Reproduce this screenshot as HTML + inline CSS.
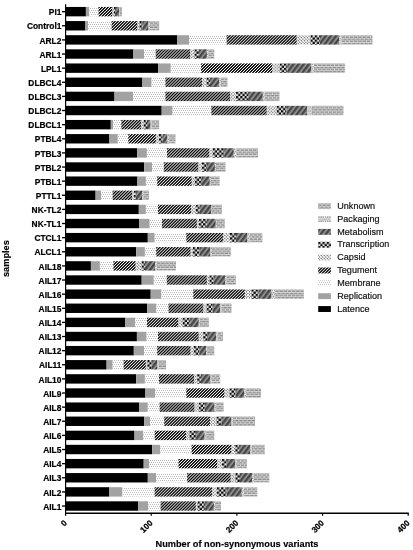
<!DOCTYPE html>
<html><head><meta charset="utf-8"><title>Number of non-synonymous variants</title>
<style>
html,body{margin:0;padding:0;background:#fff;}
body{width:413px;height:550px;overflow:hidden;}
svg{display:block;}
text{font-family:"Liberation Sans",Arial,sans-serif;}
.yl{font-size:8.4px;font-weight:bold;fill:#000;stroke:#000;stroke-width:0.2px;}
.xl{font-size:8.2px;font-weight:bold;fill:#000;stroke:#000;stroke-width:0.25px;}
.lg{font-size:9.05px;fill:#141414;stroke:#141414;stroke-width:0.2px;}
.tt{font-size:9.2px;font-weight:bold;fill:#000;stroke:#000;stroke-width:0.15px;}
</style></head><body>
<svg width="413" height="550" viewBox="0 0 413 550">
<defs>
<pattern id="mem" patternUnits="userSpaceOnUse" width="2" height="4">
<rect width="2" height="4" fill="#fff"/><rect x="0" y="0" width="1" height="1" fill="#bcbcbc"/><rect x="1" y="2" width="1" height="1" fill="#bcbcbc"/></pattern>
<pattern id="teg" patternUnits="userSpaceOnUse" width="2.12" height="6" patternTransform="rotate(45)">
<rect width="2.12" height="6" fill="#fff"/><rect width="1.3" height="6" fill="#000"/></pattern>
<pattern id="cap" patternUnits="userSpaceOnUse" width="2.15" height="2.15" patternTransform="rotate(45)">
<rect width="2.15" height="2.15" fill="#fafafa"/><rect width="1.2" height="1.2" fill="#686868"/></pattern>
<pattern id="tra" patternUnits="userSpaceOnUse" width="4.3" height="4.4">
<rect width="4.3" height="4.4" fill="#e4e4e4"/><rect width="2.15" height="2.2" fill="#000"/><rect x="2.15" y="2.2" width="2.15" height="2.2" fill="#000"/></pattern>
<pattern id="met" patternUnits="userSpaceOnUse" width="4.1" height="6" patternTransform="rotate(37)">
<rect width="4.1" height="6" fill="#8e8e8e"/><rect width="2.2" height="6" fill="#464646"/></pattern>
<pattern id="pac" patternUnits="userSpaceOnUse" width="2.2" height="4.2">
<rect width="2.2" height="4.2" fill="#fafafa"/><rect x="0" y="0.3" width="1.5" height="1.4" fill="#969696"/><rect x="1.1" y="2.4" width="1.1" height="1.4" fill="#969696"/><rect x="0" y="2.4" width="0.4" height="1.4" fill="#969696"/></pattern>
<pattern id="unk" patternUnits="userSpaceOnUse" width="4.2" height="4.3">
<rect width="4.2" height="4.3" fill="#d9d9d9"/><rect x="0" y="1.35" width="3.4" height="1.1" fill="#808080"/><rect x="2.1" y="3.5" width="2.1" height="0.8" fill="#808080"/><rect x="0" y="3.5" width="1.3" height="0.8" fill="#808080"/><rect x="2.1" y="0" width="2.1" height="0.3" fill="#808080"/><rect x="0" y="0" width="1.3" height="0.3" fill="#808080"/></pattern>
</defs>
<g shape-rendering="auto">
<rect x="65.6" y="6.95" width="20.3" height="9.4" fill="#000"/>
<rect x="85.9" y="6.95" width="3.4" height="9.4" fill="#a2a2a2"/>
<rect x="89.3" y="6.95" width="9.2" height="9.4" fill="url(#mem)"/>
<rect width="13.9" height="9.4" fill="url(#teg)" transform="translate(98.5 6.95)"/>
<rect width="1.4" height="9.4" fill="url(#cap)" transform="translate(112.4 6.95)"/>
<rect width="1.2" height="9.4" fill="url(#tra)" transform="translate(113.8 6.95)"/>
<rect width="4.2" height="9.4" fill="url(#met)" transform="translate(115 6.95)"/>
<rect width="0.6" height="9.4" fill="url(#pac)" transform="translate(119.2 6.95)"/>
<rect width="2.2" height="9.4" fill="url(#unk)" transform="translate(119.8 6.95)"/>
<rect x="65.6" y="21.07" width="19.8" height="9.4" fill="#000"/>
<rect x="85.4" y="21.07" width="2.6" height="9.4" fill="#a2a2a2"/>
<rect x="88" y="21.07" width="23.6" height="9.4" fill="url(#mem)"/>
<rect width="25.8" height="9.4" fill="url(#teg)" transform="translate(111.6 21.07)"/>
<rect width="2" height="9.4" fill="url(#cap)" transform="translate(137.4 21.07)"/>
<rect width="2.9" height="9.4" fill="url(#tra)" transform="translate(139.4 21.07)"/>
<rect width="6.2" height="9.4" fill="url(#met)" transform="translate(142.3 21.07)"/>
<rect width="1.5" height="9.4" fill="url(#pac)" transform="translate(148.5 21.07)"/>
<rect width="9.2" height="9.4" fill="url(#unk)" transform="translate(150 21.07)"/>
<rect x="65.6" y="35.2" width="111.7" height="9.4" fill="#000"/>
<rect x="177.3" y="35.2" width="11.8" height="9.4" fill="#a2a2a2"/>
<rect x="189.1" y="35.2" width="37.5" height="9.4" fill="url(#mem)"/>
<rect width="70.2" height="9.4" fill="url(#teg)" transform="translate(226.6 35.2)"/>
<rect width="13.7" height="9.4" fill="url(#cap)" transform="translate(296.8 35.2)"/>
<rect width="9.3" height="9.4" fill="url(#tra)" transform="translate(310.5 35.2)"/>
<rect width="19.2" height="9.4" fill="url(#met)" transform="translate(319.8 35.2)"/>
<rect width="2.5" height="9.4" fill="url(#pac)" transform="translate(339 35.2)"/>
<rect width="31" height="9.4" fill="url(#unk)" transform="translate(341.5 35.2)"/>
<rect x="65.6" y="49.32" width="67.8" height="9.4" fill="#000"/>
<rect x="133.4" y="49.32" width="10.9" height="9.4" fill="#a2a2a2"/>
<rect x="144.3" y="49.32" width="11.4" height="9.4" fill="url(#mem)"/>
<rect width="34.5" height="9.4" fill="url(#teg)" transform="translate(155.7 49.32)"/>
<rect width="4.3" height="9.4" fill="url(#cap)" transform="translate(190.2 49.32)"/>
<rect width="4.4" height="9.4" fill="url(#tra)" transform="translate(194.5 49.32)"/>
<rect width="8" height="9.4" fill="url(#met)" transform="translate(198.9 49.32)"/>
<rect width="1.4" height="9.4" fill="url(#pac)" transform="translate(206.9 49.32)"/>
<rect width="5.9" height="9.4" fill="url(#unk)" transform="translate(208.3 49.32)"/>
<rect x="65.6" y="63.45" width="92.5" height="9.4" fill="#000"/>
<rect x="158.1" y="63.45" width="12.7" height="9.4" fill="#a2a2a2"/>
<rect x="170.8" y="63.45" width="30.3" height="9.4" fill="url(#mem)"/>
<rect width="71.4" height="9.4" fill="url(#teg)" transform="translate(201.1 63.45)"/>
<rect width="7.2" height="9.4" fill="url(#cap)" transform="translate(272.5 63.45)"/>
<rect width="7.8" height="9.4" fill="url(#tra)" transform="translate(279.7 63.45)"/>
<rect width="24" height="9.4" fill="url(#met)" transform="translate(287.5 63.45)"/>
<rect width="2.4" height="9.4" fill="url(#pac)" transform="translate(311.5 63.45)"/>
<rect width="31" height="9.4" fill="url(#unk)" transform="translate(313.9 63.45)"/>
<rect x="65.6" y="77.58" width="76.8" height="9.4" fill="#000"/>
<rect x="142.4" y="77.58" width="9.2" height="9.4" fill="#a2a2a2"/>
<rect x="151.6" y="77.58" width="13.8" height="9.4" fill="url(#mem)"/>
<rect width="36.7" height="9.4" fill="url(#teg)" transform="translate(165.4 77.58)"/>
<rect width="4.4" height="9.4" fill="url(#cap)" transform="translate(202.1 77.58)"/>
<rect width="3.4" height="9.4" fill="url(#tra)" transform="translate(206.5 77.58)"/>
<rect width="9.1" height="9.4" fill="url(#met)" transform="translate(209.9 77.58)"/>
<rect width="2" height="9.4" fill="url(#pac)" transform="translate(219 77.58)"/>
<rect width="6.5" height="9.4" fill="url(#unk)" transform="translate(221 77.58)"/>
<rect x="65.6" y="91.7" width="48.9" height="9.4" fill="#000"/>
<rect x="114.5" y="91.7" width="18.7" height="9.4" fill="#a2a2a2"/>
<rect x="133.2" y="91.7" width="32.2" height="9.4" fill="url(#mem)"/>
<rect width="64.6" height="9.4" fill="url(#teg)" transform="translate(165.4 91.7)"/>
<rect width="6" height="9.4" fill="url(#cap)" transform="translate(230 91.7)"/>
<rect width="12.1" height="9.4" fill="url(#tra)" transform="translate(236 91.7)"/>
<rect width="14.7" height="9.4" fill="url(#met)" transform="translate(248.1 91.7)"/>
<rect width="1.7" height="9.4" fill="url(#pac)" transform="translate(262.8 91.7)"/>
<rect width="15" height="9.4" fill="url(#unk)" transform="translate(264.5 91.7)"/>
<rect x="65.6" y="105.83" width="96.1" height="9.4" fill="#000"/>
<rect x="161.7" y="105.83" width="10.9" height="9.4" fill="#a2a2a2"/>
<rect x="172.6" y="105.83" width="38.7" height="9.4" fill="url(#mem)"/>
<rect width="55.5" height="9.4" fill="url(#teg)" transform="translate(211.3 105.83)"/>
<rect width="9.9" height="9.4" fill="url(#cap)" transform="translate(266.8 105.83)"/>
<rect width="9.8" height="9.4" fill="url(#tra)" transform="translate(276.7 105.83)"/>
<rect width="20.7" height="9.4" fill="url(#met)" transform="translate(286.5 105.83)"/>
<rect width="4.8" height="9.4" fill="url(#pac)" transform="translate(307.2 105.83)"/>
<rect width="31.5" height="9.4" fill="url(#unk)" transform="translate(312 105.83)"/>
<rect x="65.6" y="119.95" width="45.2" height="9.4" fill="#000"/>
<rect x="110.8" y="119.95" width="2.4" height="9.4" fill="#a2a2a2"/>
<rect x="113.2" y="119.95" width="8.1" height="9.4" fill="url(#mem)"/>
<rect width="19.9" height="9.4" fill="url(#teg)" transform="translate(121.3 119.95)"/>
<rect width="2.4" height="9.4" fill="url(#cap)" transform="translate(141.2 119.95)"/>
<rect width="3.4" height="9.4" fill="url(#tra)" transform="translate(143.6 119.95)"/>
<rect width="3.6" height="9.4" fill="url(#met)" transform="translate(147 119.95)"/>
<rect width="0.9" height="9.4" fill="url(#pac)" transform="translate(150.6 119.95)"/>
<rect width="7.7" height="9.4" fill="url(#unk)" transform="translate(151.5 119.95)"/>
<rect x="65.6" y="134.08" width="43.8" height="9.4" fill="#000"/>
<rect x="109.4" y="134.08" width="8.4" height="9.4" fill="#a2a2a2"/>
<rect x="117.8" y="134.08" width="10.5" height="9.4" fill="url(#mem)"/>
<rect width="27.6" height="9.4" fill="url(#teg)" transform="translate(128.3 134.08)"/>
<rect width="3.1" height="9.4" fill="url(#cap)" transform="translate(155.9 134.08)"/>
<rect width="3.6" height="9.4" fill="url(#tra)" transform="translate(159 134.08)"/>
<rect width="4.9" height="9.4" fill="url(#met)" transform="translate(162.6 134.08)"/>
<rect width="1.7" height="9.4" fill="url(#pac)" transform="translate(167.5 134.08)"/>
<rect width="6.3" height="9.4" fill="url(#unk)" transform="translate(169.2 134.08)"/>
<rect x="65.6" y="148.2" width="71.6" height="9.4" fill="#000"/>
<rect x="137.2" y="148.2" width="9.7" height="9.4" fill="#a2a2a2"/>
<rect x="146.9" y="148.2" width="20.1" height="9.4" fill="url(#mem)"/>
<rect width="42.4" height="9.4" fill="url(#teg)" transform="translate(167 148.2)"/>
<rect width="3.4" height="9.4" fill="url(#cap)" transform="translate(209.4 148.2)"/>
<rect width="11.4" height="9.4" fill="url(#tra)" transform="translate(212.8 148.2)"/>
<rect width="9.6" height="9.4" fill="url(#met)" transform="translate(224.2 148.2)"/>
<rect width="2.5" height="9.4" fill="url(#pac)" transform="translate(233.8 148.2)"/>
<rect width="21.7" height="9.4" fill="url(#unk)" transform="translate(236.3 148.2)"/>
<rect x="65.6" y="162.33" width="78.6" height="9.4" fill="#000"/>
<rect x="144.2" y="162.33" width="8" height="9.4" fill="#a2a2a2"/>
<rect x="152.2" y="162.33" width="11.6" height="9.4" fill="url(#mem)"/>
<rect width="34.6" height="9.4" fill="url(#teg)" transform="translate(163.8 162.33)"/>
<rect width="3.6" height="9.4" fill="url(#cap)" transform="translate(198.4 162.33)"/>
<rect width="4.9" height="9.4" fill="url(#tra)" transform="translate(202 162.33)"/>
<rect width="8" height="9.4" fill="url(#met)" transform="translate(206.9 162.33)"/>
<rect width="1.1" height="9.4" fill="url(#pac)" transform="translate(214.9 162.33)"/>
<rect width="9.5" height="9.4" fill="url(#unk)" transform="translate(216 162.33)"/>
<rect x="65.6" y="176.45" width="71.8" height="9.4" fill="#000"/>
<rect x="137.4" y="176.45" width="8.5" height="9.4" fill="#a2a2a2"/>
<rect x="145.9" y="176.45" width="11.3" height="9.4" fill="url(#mem)"/>
<rect width="34.6" height="9.4" fill="url(#teg)" transform="translate(157.2 176.45)"/>
<rect width="3" height="9.4" fill="url(#cap)" transform="translate(191.8 176.45)"/>
<rect width="7.2" height="9.4" fill="url(#tra)" transform="translate(194.8 176.45)"/>
<rect width="7.8" height="9.4" fill="url(#met)" transform="translate(202 176.45)"/>
<rect width="1.2" height="9.4" fill="url(#pac)" transform="translate(209.8 176.45)"/>
<rect width="8.6" height="9.4" fill="url(#unk)" transform="translate(211 176.45)"/>
<rect x="65.6" y="190.58" width="30" height="9.4" fill="#000"/>
<rect x="95.6" y="190.58" width="5.4" height="9.4" fill="#a2a2a2"/>
<rect x="101" y="190.58" width="11.6" height="9.4" fill="url(#mem)"/>
<rect width="19.8" height="9.4" fill="url(#teg)" transform="translate(112.6 190.58)"/>
<rect width="1.6" height="9.4" fill="url(#cap)" transform="translate(132.4 190.58)"/>
<rect width="1.8" height="9.4" fill="url(#tra)" transform="translate(134 190.58)"/>
<rect width="6.2" height="9.4" fill="url(#met)" transform="translate(135.8 190.58)"/>
<rect width="1.3" height="9.4" fill="url(#pac)" transform="translate(142 190.58)"/>
<rect width="5.7" height="9.4" fill="url(#unk)" transform="translate(143.3 190.58)"/>
<rect x="65.6" y="204.7" width="73.2" height="9.4" fill="#000"/>
<rect x="138.8" y="204.7" width="7.1" height="9.4" fill="#a2a2a2"/>
<rect x="145.9" y="204.7" width="12.1" height="9.4" fill="url(#mem)"/>
<rect width="33" height="9.4" fill="url(#teg)" transform="translate(158 204.7)"/>
<rect width="4.8" height="9.4" fill="url(#cap)" transform="translate(191 204.7)"/>
<rect width="3.8" height="9.4" fill="url(#tra)" transform="translate(195.8 204.7)"/>
<rect width="11.4" height="9.4" fill="url(#met)" transform="translate(199.6 204.7)"/>
<rect width="1" height="9.4" fill="url(#pac)" transform="translate(211 204.7)"/>
<rect width="9.9" height="9.4" fill="url(#unk)" transform="translate(212 204.7)"/>
<rect x="65.6" y="218.83" width="73.7" height="9.4" fill="#000"/>
<rect x="139.3" y="218.83" width="10.4" height="9.4" fill="#a2a2a2"/>
<rect x="149.7" y="218.83" width="12.3" height="9.4" fill="url(#mem)"/>
<rect width="34.9" height="9.4" fill="url(#teg)" transform="translate(162 218.83)"/>
<rect width="2" height="9.4" fill="url(#cap)" transform="translate(196.9 218.83)"/>
<rect width="7.9" height="9.4" fill="url(#tra)" transform="translate(198.9 218.83)"/>
<rect width="9" height="9.4" fill="url(#met)" transform="translate(206.8 218.83)"/>
<rect width="1.2" height="9.4" fill="url(#pac)" transform="translate(215.8 218.83)"/>
<rect width="7.8" height="9.4" fill="url(#unk)" transform="translate(217 218.83)"/>
<rect x="65.6" y="232.95" width="82.2" height="9.4" fill="#000"/>
<rect x="147.8" y="232.95" width="6.9" height="9.4" fill="#a2a2a2"/>
<rect x="154.7" y="232.95" width="31.6" height="9.4" fill="url(#mem)"/>
<rect width="36.9" height="9.4" fill="url(#teg)" transform="translate(186.3 232.95)"/>
<rect width="6.8" height="9.4" fill="url(#cap)" transform="translate(223.2 232.95)"/>
<rect width="5.9" height="9.4" fill="url(#tra)" transform="translate(230 232.95)"/>
<rect width="11.6" height="9.4" fill="url(#met)" transform="translate(235.9 232.95)"/>
<rect width="1.9" height="9.4" fill="url(#pac)" transform="translate(247.5 232.95)"/>
<rect width="13" height="9.4" fill="url(#unk)" transform="translate(249.4 232.95)"/>
<rect x="65.6" y="247.08" width="70.6" height="9.4" fill="#000"/>
<rect x="136.2" y="247.08" width="8.7" height="9.4" fill="#a2a2a2"/>
<rect x="144.9" y="247.08" width="11.3" height="9.4" fill="url(#mem)"/>
<rect width="34.5" height="9.4" fill="url(#teg)" transform="translate(156.2 247.08)"/>
<rect width="2.1" height="9.4" fill="url(#cap)" transform="translate(190.7 247.08)"/>
<rect width="6.6" height="9.4" fill="url(#tra)" transform="translate(192.8 247.08)"/>
<rect width="11" height="9.4" fill="url(#met)" transform="translate(199.4 247.08)"/>
<rect width="1.6" height="9.4" fill="url(#pac)" transform="translate(210.4 247.08)"/>
<rect width="18.8" height="9.4" fill="url(#unk)" transform="translate(212 247.08)"/>
<rect x="65.6" y="261.2" width="25.3" height="9.4" fill="#000"/>
<rect x="90.9" y="261.2" width="9" height="9.4" fill="#a2a2a2"/>
<rect x="99.9" y="261.2" width="13.5" height="9.4" fill="url(#mem)"/>
<rect width="22.3" height="9.4" fill="url(#teg)" transform="translate(113.4 261.2)"/>
<rect width="6" height="9.4" fill="url(#cap)" transform="translate(135.7 261.2)"/>
<rect width="3.2" height="9.4" fill="url(#tra)" transform="translate(141.7 261.2)"/>
<rect width="10.2" height="9.4" fill="url(#met)" transform="translate(144.9 261.2)"/>
<rect width="1.9" height="9.4" fill="url(#pac)" transform="translate(155.1 261.2)"/>
<rect width="19" height="9.4" fill="url(#unk)" transform="translate(157 261.2)"/>
<rect x="65.6" y="275.32" width="76.1" height="9.4" fill="#000"/>
<rect x="141.7" y="275.32" width="12.1" height="9.4" fill="#a2a2a2"/>
<rect x="153.8" y="275.32" width="13" height="9.4" fill="url(#mem)"/>
<rect width="40.1" height="9.4" fill="url(#teg)" transform="translate(166.8 275.32)"/>
<rect width="2.5" height="9.4" fill="url(#cap)" transform="translate(206.9 275.32)"/>
<rect width="4.1" height="9.4" fill="url(#tra)" transform="translate(209.4 275.32)"/>
<rect width="11.5" height="9.4" fill="url(#met)" transform="translate(213.5 275.32)"/>
<rect width="1.4" height="9.4" fill="url(#pac)" transform="translate(225 275.32)"/>
<rect width="9.4" height="9.4" fill="url(#unk)" transform="translate(226.4 275.32)"/>
<rect x="65.6" y="289.45" width="85.1" height="9.4" fill="#000"/>
<rect x="150.7" y="289.45" width="10.7" height="9.4" fill="#a2a2a2"/>
<rect x="161.4" y="289.45" width="31.9" height="9.4" fill="url(#mem)"/>
<rect width="51.6" height="9.4" fill="url(#teg)" transform="translate(193.3 289.45)"/>
<rect width="6.5" height="9.4" fill="url(#cap)" transform="translate(244.9 289.45)"/>
<rect width="7.1" height="9.4" fill="url(#tra)" transform="translate(251.4 289.45)"/>
<rect width="13.1" height="9.4" fill="url(#met)" transform="translate(258.5 289.45)"/>
<rect width="3.6" height="9.4" fill="url(#pac)" transform="translate(271.6 289.45)"/>
<rect width="28.6" height="9.4" fill="url(#unk)" transform="translate(275.2 289.45)"/>
<rect x="65.6" y="303.57" width="81.5" height="9.4" fill="#000"/>
<rect x="147.1" y="303.57" width="9.3" height="9.4" fill="#a2a2a2"/>
<rect x="156.4" y="303.57" width="12.1" height="9.4" fill="url(#mem)"/>
<rect width="34.9" height="9.4" fill="url(#teg)" transform="translate(168.5 303.57)"/>
<rect width="3.2" height="9.4" fill="url(#cap)" transform="translate(203.4 303.57)"/>
<rect width="6" height="9.4" fill="url(#tra)" transform="translate(206.6 303.57)"/>
<rect width="7.8" height="9.4" fill="url(#met)" transform="translate(212.6 303.57)"/>
<rect width="1.1" height="9.4" fill="url(#pac)" transform="translate(220.4 303.57)"/>
<rect width="10" height="9.4" fill="url(#unk)" transform="translate(221.5 303.57)"/>
<rect x="65.6" y="317.7" width="59.7" height="9.4" fill="#000"/>
<rect x="125.3" y="317.7" width="9.9" height="9.4" fill="#a2a2a2"/>
<rect x="135.2" y="317.7" width="11.8" height="9.4" fill="url(#mem)"/>
<rect width="31.4" height="9.4" fill="url(#teg)" transform="translate(147 317.7)"/>
<rect width="4.2" height="9.4" fill="url(#cap)" transform="translate(178.4 317.7)"/>
<rect width="7.5" height="9.4" fill="url(#tra)" transform="translate(182.6 317.7)"/>
<rect width="8.7" height="9.4" fill="url(#met)" transform="translate(190.1 317.7)"/>
<rect width="1" height="9.4" fill="url(#pac)" transform="translate(198.8 317.7)"/>
<rect width="9" height="9.4" fill="url(#unk)" transform="translate(199.8 317.7)"/>
<rect x="65.6" y="331.82" width="71.3" height="9.4" fill="#000"/>
<rect x="136.9" y="331.82" width="9.7" height="9.4" fill="#a2a2a2"/>
<rect x="146.6" y="331.82" width="11.4" height="9.4" fill="url(#mem)"/>
<rect width="40.8" height="9.4" fill="url(#teg)" transform="translate(158 331.82)"/>
<rect width="4.4" height="9.4" fill="url(#cap)" transform="translate(198.8 331.82)"/>
<rect width="4.8" height="9.4" fill="url(#tra)" transform="translate(203.2 331.82)"/>
<rect width="8.2" height="9.4" fill="url(#met)" transform="translate(208 331.82)"/>
<rect width="1.4" height="9.4" fill="url(#pac)" transform="translate(216.2 331.82)"/>
<rect width="5.4" height="9.4" fill="url(#unk)" transform="translate(217.6 331.82)"/>
<rect x="65.6" y="345.95" width="68.2" height="9.4" fill="#000"/>
<rect x="133.8" y="345.95" width="10.4" height="9.4" fill="#a2a2a2"/>
<rect x="144.2" y="345.95" width="13" height="9.4" fill="url(#mem)"/>
<rect width="33.5" height="9.4" fill="url(#teg)" transform="translate(157.2 345.95)"/>
<rect width="3.1" height="9.4" fill="url(#cap)" transform="translate(190.7 345.95)"/>
<rect width="5.4" height="9.4" fill="url(#tra)" transform="translate(193.8 345.95)"/>
<rect width="6.8" height="9.4" fill="url(#met)" transform="translate(199.2 345.95)"/>
<rect width="1.2" height="9.4" fill="url(#pac)" transform="translate(206 345.95)"/>
<rect width="7.1" height="9.4" fill="url(#unk)" transform="translate(207.2 345.95)"/>
<rect x="65.6" y="360.07" width="41" height="9.4" fill="#000"/>
<rect x="106.6" y="360.07" width="6.1" height="9.4" fill="#a2a2a2"/>
<rect x="112.7" y="360.07" width="10.9" height="9.4" fill="url(#mem)"/>
<rect width="22.3" height="9.4" fill="url(#teg)" transform="translate(123.6 360.07)"/>
<rect width="1.4" height="9.4" fill="url(#cap)" transform="translate(145.9 360.07)"/>
<rect width="4.1" height="9.4" fill="url(#tra)" transform="translate(147.3 360.07)"/>
<rect width="6.1" height="9.4" fill="url(#met)" transform="translate(151.4 360.07)"/>
<rect width="1" height="9.4" fill="url(#pac)" transform="translate(157.5 360.07)"/>
<rect width="7.5" height="9.4" fill="url(#unk)" transform="translate(158.5 360.07)"/>
<rect x="65.6" y="374.2" width="70.6" height="9.4" fill="#000"/>
<rect x="136.2" y="374.2" width="8.7" height="9.4" fill="#a2a2a2"/>
<rect x="144.9" y="374.2" width="14.1" height="9.4" fill="url(#mem)"/>
<rect width="35.1" height="9.4" fill="url(#teg)" transform="translate(159 374.2)"/>
<rect width="3.1" height="9.4" fill="url(#cap)" transform="translate(194.1 374.2)"/>
<rect width="3.6" height="9.4" fill="url(#tra)" transform="translate(197.2 374.2)"/>
<rect width="9.7" height="9.4" fill="url(#met)" transform="translate(200.8 374.2)"/>
<rect width="1" height="9.4" fill="url(#pac)" transform="translate(210.5 374.2)"/>
<rect width="8.7" height="9.4" fill="url(#unk)" transform="translate(211.5 374.2)"/>
<rect x="65.6" y="388.32" width="79.8" height="9.4" fill="#000"/>
<rect x="145.4" y="388.32" width="9.6" height="9.4" fill="#a2a2a2"/>
<rect x="155" y="388.32" width="31.3" height="9.4" fill="url(#mem)"/>
<rect width="38.3" height="9.4" fill="url(#teg)" transform="translate(186.3 388.32)"/>
<rect width="4.9" height="9.4" fill="url(#cap)" transform="translate(224.6 388.32)"/>
<rect width="6" height="9.4" fill="url(#tra)" transform="translate(229.5 388.32)"/>
<rect width="8.5" height="9.4" fill="url(#met)" transform="translate(235.5 388.32)"/>
<rect width="2.2" height="9.4" fill="url(#pac)" transform="translate(244 388.32)"/>
<rect width="14.8" height="9.4" fill="url(#unk)" transform="translate(246.2 388.32)"/>
<rect x="65.6" y="402.45" width="73.7" height="9.4" fill="#000"/>
<rect x="139.3" y="402.45" width="8.5" height="9.4" fill="#a2a2a2"/>
<rect x="147.8" y="402.45" width="11.8" height="9.4" fill="url(#mem)"/>
<rect width="35" height="9.4" fill="url(#teg)" transform="translate(159.6 402.45)"/>
<rect width="4.1" height="9.4" fill="url(#cap)" transform="translate(194.6 402.45)"/>
<rect width="6.1" height="9.4" fill="url(#tra)" transform="translate(198.7 402.45)"/>
<rect width="9.8" height="9.4" fill="url(#met)" transform="translate(204.8 402.45)"/>
<rect width="1.6" height="9.4" fill="url(#pac)" transform="translate(214.6 402.45)"/>
<rect width="7.4" height="9.4" fill="url(#unk)" transform="translate(216.2 402.45)"/>
<rect x="65.6" y="416.57" width="78.6" height="9.4" fill="#000"/>
<rect x="144.2" y="416.57" width="6" height="9.4" fill="#a2a2a2"/>
<rect x="150.2" y="416.57" width="14" height="9.4" fill="url(#mem)"/>
<rect width="45.9" height="9.4" fill="url(#teg)" transform="translate(164.2 416.57)"/>
<rect width="6.4" height="9.4" fill="url(#cap)" transform="translate(210.1 416.57)"/>
<rect width="4.8" height="9.4" fill="url(#tra)" transform="translate(216.5 416.57)"/>
<rect width="10.2" height="9.4" fill="url(#met)" transform="translate(221.3 416.57)"/>
<rect width="1.3" height="9.4" fill="url(#pac)" transform="translate(231.5 416.57)"/>
<rect width="22.2" height="9.4" fill="url(#unk)" transform="translate(232.8 416.57)"/>
<rect x="65.6" y="430.7" width="68.9" height="9.4" fill="#000"/>
<rect x="134.5" y="430.7" width="8.9" height="9.4" fill="#a2a2a2"/>
<rect x="143.4" y="430.7" width="11.3" height="9.4" fill="url(#mem)"/>
<rect width="31.3" height="9.4" fill="url(#teg)" transform="translate(154.7 430.7)"/>
<rect width="3.4" height="9.4" fill="url(#cap)" transform="translate(186 430.7)"/>
<rect width="6.7" height="9.4" fill="url(#tra)" transform="translate(189.4 430.7)"/>
<rect width="8.6" height="9.4" fill="url(#met)" transform="translate(196.1 430.7)"/>
<rect width="1.5" height="9.4" fill="url(#pac)" transform="translate(204.7 430.7)"/>
<rect width="8.1" height="9.4" fill="url(#unk)" transform="translate(206.2 430.7)"/>
<rect x="65.6" y="444.82" width="86.5" height="9.4" fill="#000"/>
<rect x="152.1" y="444.82" width="8.3" height="9.4" fill="#a2a2a2"/>
<rect x="160.4" y="444.82" width="31.2" height="9.4" fill="url(#mem)"/>
<rect width="39.8" height="9.4" fill="url(#teg)" transform="translate(191.6 444.82)"/>
<rect width="3.9" height="9.4" fill="url(#cap)" transform="translate(231.4 444.82)"/>
<rect width="3.5" height="9.4" fill="url(#tra)" transform="translate(235.3 444.82)"/>
<rect width="11.2" height="9.4" fill="url(#met)" transform="translate(238.8 444.82)"/>
<rect width="2" height="9.4" fill="url(#pac)" transform="translate(250 444.82)"/>
<rect width="12.8" height="9.4" fill="url(#unk)" transform="translate(252 444.82)"/>
<rect x="65.6" y="458.95" width="78.1" height="9.4" fill="#000"/>
<rect x="143.7" y="458.95" width="5.3" height="9.4" fill="#a2a2a2"/>
<rect x="149" y="458.95" width="29.5" height="9.4" fill="url(#mem)"/>
<rect width="38.7" height="9.4" fill="url(#teg)" transform="translate(178.5 458.95)"/>
<rect width="4.8" height="9.4" fill="url(#cap)" transform="translate(217.2 458.95)"/>
<rect width="4.2" height="9.4" fill="url(#tra)" transform="translate(222 458.95)"/>
<rect width="9.2" height="9.4" fill="url(#met)" transform="translate(226.2 458.95)"/>
<rect width="1.4" height="9.4" fill="url(#pac)" transform="translate(235.4 458.95)"/>
<rect width="10.1" height="9.4" fill="url(#unk)" transform="translate(236.8 458.95)"/>
<rect x="65.6" y="473.07" width="82.2" height="9.4" fill="#000"/>
<rect x="147.8" y="473.07" width="8.5" height="9.4" fill="#a2a2a2"/>
<rect x="156.3" y="473.07" width="30.8" height="9.4" fill="url(#mem)"/>
<rect width="43.7" height="9.4" fill="url(#teg)" transform="translate(187.1 473.07)"/>
<rect width="4.6" height="9.4" fill="url(#cap)" transform="translate(230.8 473.07)"/>
<rect width="4.6" height="9.4" fill="url(#tra)" transform="translate(235.4 473.07)"/>
<rect width="12" height="9.4" fill="url(#met)" transform="translate(240 473.07)"/>
<rect width="2" height="9.4" fill="url(#pac)" transform="translate(252 473.07)"/>
<rect width="15.3" height="9.4" fill="url(#unk)" transform="translate(254 473.07)"/>
<rect x="65.6" y="487.2" width="43.4" height="9.4" fill="#000"/>
<rect x="109" y="487.2" width="13.4" height="9.4" fill="#a2a2a2"/>
<rect x="122.4" y="487.2" width="32.2" height="9.4" fill="url(#mem)"/>
<rect width="57.4" height="9.4" fill="url(#teg)" transform="translate(154.6 487.2)"/>
<rect width="4.9" height="9.4" fill="url(#cap)" transform="translate(212 487.2)"/>
<rect width="9.7" height="9.4" fill="url(#tra)" transform="translate(216.9 487.2)"/>
<rect width="15.2" height="9.4" fill="url(#met)" transform="translate(226.6 487.2)"/>
<rect width="2" height="9.4" fill="url(#pac)" transform="translate(241.8 487.2)"/>
<rect width="13.5" height="9.4" fill="url(#unk)" transform="translate(243.8 487.2)"/>
<rect x="65.6" y="501.32" width="72.5" height="9.4" fill="#000"/>
<rect x="138.1" y="501.32" width="10.2" height="9.4" fill="#a2a2a2"/>
<rect x="148.3" y="501.32" width="12.3" height="9.4" fill="url(#mem)"/>
<rect width="35.3" height="9.4" fill="url(#teg)" transform="translate(160.6 501.32)"/>
<rect width="1.7" height="9.4" fill="url(#cap)" transform="translate(195.9 501.32)"/>
<rect width="7.5" height="9.4" fill="url(#tra)" transform="translate(197.6 501.32)"/>
<rect width="8.8" height="9.4" fill="url(#met)" transform="translate(205.1 501.32)"/>
<rect width="1.3" height="9.4" fill="url(#pac)" transform="translate(213.9 501.32)"/>
<rect width="5.8" height="9.4" fill="url(#unk)" transform="translate(215.2 501.32)"/>
</g>
<g stroke="#000" stroke-width="1.2" fill="none">
<line x1="65.6" y1="4.2" x2="65.6" y2="515.8"/>
<line x1="65" y1="513.2" x2="408.8" y2="513.2" stroke-width="1.4"/>
<line x1="62" y1="11.65" x2="65.6" y2="11.65" stroke-width="1.35"/>
<line x1="62" y1="25.77" x2="65.6" y2="25.77" stroke-width="1.35"/>
<line x1="62" y1="39.9" x2="65.6" y2="39.9" stroke-width="1.35"/>
<line x1="62" y1="54.02" x2="65.6" y2="54.02" stroke-width="1.35"/>
<line x1="62" y1="68.15" x2="65.6" y2="68.15" stroke-width="1.35"/>
<line x1="62" y1="82.28" x2="65.6" y2="82.28" stroke-width="1.35"/>
<line x1="62" y1="96.4" x2="65.6" y2="96.4" stroke-width="1.35"/>
<line x1="62" y1="110.53" x2="65.6" y2="110.53" stroke-width="1.35"/>
<line x1="62" y1="124.65" x2="65.6" y2="124.65" stroke-width="1.35"/>
<line x1="62" y1="138.78" x2="65.6" y2="138.78" stroke-width="1.35"/>
<line x1="62" y1="152.9" x2="65.6" y2="152.9" stroke-width="1.35"/>
<line x1="62" y1="167.03" x2="65.6" y2="167.03" stroke-width="1.35"/>
<line x1="62" y1="181.15" x2="65.6" y2="181.15" stroke-width="1.35"/>
<line x1="62" y1="195.28" x2="65.6" y2="195.28" stroke-width="1.35"/>
<line x1="62" y1="209.4" x2="65.6" y2="209.4" stroke-width="1.35"/>
<line x1="62" y1="223.53" x2="65.6" y2="223.53" stroke-width="1.35"/>
<line x1="62" y1="237.65" x2="65.6" y2="237.65" stroke-width="1.35"/>
<line x1="62" y1="251.78" x2="65.6" y2="251.78" stroke-width="1.35"/>
<line x1="62" y1="265.9" x2="65.6" y2="265.9" stroke-width="1.35"/>
<line x1="62" y1="280.02" x2="65.6" y2="280.02" stroke-width="1.35"/>
<line x1="62" y1="294.15" x2="65.6" y2="294.15" stroke-width="1.35"/>
<line x1="62" y1="308.27" x2="65.6" y2="308.27" stroke-width="1.35"/>
<line x1="62" y1="322.4" x2="65.6" y2="322.4" stroke-width="1.35"/>
<line x1="62" y1="336.52" x2="65.6" y2="336.52" stroke-width="1.35"/>
<line x1="62" y1="350.65" x2="65.6" y2="350.65" stroke-width="1.35"/>
<line x1="62" y1="364.77" x2="65.6" y2="364.77" stroke-width="1.35"/>
<line x1="62" y1="378.9" x2="65.6" y2="378.9" stroke-width="1.35"/>
<line x1="62" y1="393.02" x2="65.6" y2="393.02" stroke-width="1.35"/>
<line x1="62" y1="407.15" x2="65.6" y2="407.15" stroke-width="1.35"/>
<line x1="62" y1="421.27" x2="65.6" y2="421.27" stroke-width="1.35"/>
<line x1="62" y1="435.4" x2="65.6" y2="435.4" stroke-width="1.35"/>
<line x1="62" y1="449.52" x2="65.6" y2="449.52" stroke-width="1.35"/>
<line x1="62" y1="463.65" x2="65.6" y2="463.65" stroke-width="1.35"/>
<line x1="62" y1="477.77" x2="65.6" y2="477.77" stroke-width="1.35"/>
<line x1="62" y1="491.9" x2="65.6" y2="491.9" stroke-width="1.35"/>
<line x1="62" y1="506.02" x2="65.6" y2="506.02" stroke-width="1.35"/>
<line x1="151.25" y1="513.2" x2="151.25" y2="515.8"/>
<line x1="236.9" y1="513.2" x2="236.9" y2="515.8"/>
<line x1="322.55" y1="513.2" x2="322.55" y2="515.8"/>
<line x1="408.2" y1="513.2" x2="408.2" y2="515.8"/>
</g>
<text class="yl" x="61.4" y="15.35" text-anchor="end">PI1</text>
<text class="yl" x="61.4" y="29.47" text-anchor="end">Control1</text>
<text class="yl" x="61.4" y="43.6" text-anchor="end">ARL2</text>
<text class="yl" x="61.4" y="57.73" text-anchor="end">ARL1</text>
<text class="yl" x="61.4" y="71.85" text-anchor="end">LPL1</text>
<text class="yl" x="61.4" y="85.98" text-anchor="end">DLBCL4</text>
<text class="yl" x="61.4" y="100.1" text-anchor="end">DLBCL3</text>
<text class="yl" x="61.4" y="114.23" text-anchor="end">DLBCL2</text>
<text class="yl" x="61.4" y="128.35" text-anchor="end">DLBCL1</text>
<text class="yl" x="61.4" y="142.47" text-anchor="end">PTBL4</text>
<text class="yl" x="61.4" y="156.6" text-anchor="end">PTBL3</text>
<text class="yl" x="61.4" y="170.72" text-anchor="end">PTBL2</text>
<text class="yl" x="61.4" y="184.85" text-anchor="end">PTBL1</text>
<text class="yl" x="61.4" y="198.97" text-anchor="end">PTTL1</text>
<text class="yl" x="61.4" y="213.1" text-anchor="end">NK-TL2</text>
<text class="yl" x="61.4" y="227.22" text-anchor="end">NK-TL1</text>
<text class="yl" x="61.4" y="241.35" text-anchor="end">CTCL1</text>
<text class="yl" x="61.4" y="255.47" text-anchor="end">ALCL1</text>
<text class="yl" x="61.4" y="269.6" text-anchor="end">AIL18</text>
<text class="yl" x="61.4" y="283.72" text-anchor="end">AIL17</text>
<text class="yl" x="61.4" y="297.85" text-anchor="end">AIL16</text>
<text class="yl" x="61.4" y="311.97" text-anchor="end">AIL15</text>
<text class="yl" x="61.4" y="326.1" text-anchor="end">AIL14</text>
<text class="yl" x="61.4" y="340.22" text-anchor="end">AIL13</text>
<text class="yl" x="61.4" y="354.35" text-anchor="end">AIL12</text>
<text class="yl" x="61.4" y="368.47" text-anchor="end">AIL11</text>
<text class="yl" x="61.4" y="382.6" text-anchor="end">AIL10</text>
<text class="yl" x="61.4" y="396.72" text-anchor="end">AIL9</text>
<text class="yl" x="61.4" y="410.85" text-anchor="end">AIL8</text>
<text class="yl" x="61.4" y="424.97" text-anchor="end">AIL7</text>
<text class="yl" x="61.4" y="439.1" text-anchor="end">AIL6</text>
<text class="yl" x="61.4" y="453.22" text-anchor="end">AIL5</text>
<text class="yl" x="61.4" y="467.35" text-anchor="end">AIL4</text>
<text class="yl" x="61.4" y="481.47" text-anchor="end">AIL3</text>
<text class="yl" x="61.4" y="495.6" text-anchor="end">AIL2</text>
<text class="yl" x="61.4" y="509.72" text-anchor="end">AIL1</text>
<text class="xl" x="67.6" y="523.6" text-anchor="end" transform="rotate(-45 67.6 523.6)">0</text>
<text class="xl" x="153.25" y="523.6" text-anchor="end" transform="rotate(-45 153.25 523.6)">100</text>
<text class="xl" x="238.9" y="523.6" text-anchor="end" transform="rotate(-45 238.9 523.6)">200</text>
<text class="xl" x="324.55" y="523.6" text-anchor="end" transform="rotate(-45 324.55 523.6)">300</text>
<text class="xl" x="410.2" y="523.6" text-anchor="end" transform="rotate(-45 410.2 523.6)">400</text>
<text class="tt" x="237" y="546.6" text-anchor="middle">Number of non-synonymous variants</text>
<text class="tt" x="0" y="0" text-anchor="middle" transform="translate(9.2 258.6) rotate(-90)">samples</text>
<rect width="12.7" height="5.9" fill="url(#unk)" transform="translate(318.2 203.2)"/>
<text class="lg" x="337.3" y="208.9">Unknown</text>
<rect width="12.7" height="5.9" fill="url(#pac)" transform="translate(318.2 216.06)"/>
<text class="lg" x="337.3" y="221.76">Packaging</text>
<rect width="12.7" height="5.9" fill="url(#met)" transform="translate(318.2 228.92)"/>
<text class="lg" x="337.3" y="234.62">Metabolism</text>
<rect width="12.7" height="5.9" fill="url(#tra)" transform="translate(318.2 241.78)"/>
<text class="lg" x="337.3" y="247.48">Transcription</text>
<rect width="12.7" height="5.9" fill="url(#cap)" transform="translate(318.2 254.64)"/>
<text class="lg" x="337.3" y="260.34">Capsid</text>
<rect width="12.7" height="5.9" fill="url(#teg)" transform="translate(318.2 267.5)"/>
<text class="lg" x="337.3" y="273.2">Tegument</text>
<rect x="318.2" y="280.36" width="12.7" height="5.9" fill="url(#mem)"/>
<text class="lg" x="337.3" y="286.06">Membrane</text>
<rect width="12.7" height="5.9" fill="#a2a2a2" transform="translate(318.2 293.22)"/>
<text class="lg" x="337.3" y="298.92">Replication</text>
<rect width="12.7" height="5.9" fill="#000" transform="translate(318.2 306.08)"/>
<text class="lg" x="337.3" y="311.78">Latence</text>
</svg>
</body></html>
